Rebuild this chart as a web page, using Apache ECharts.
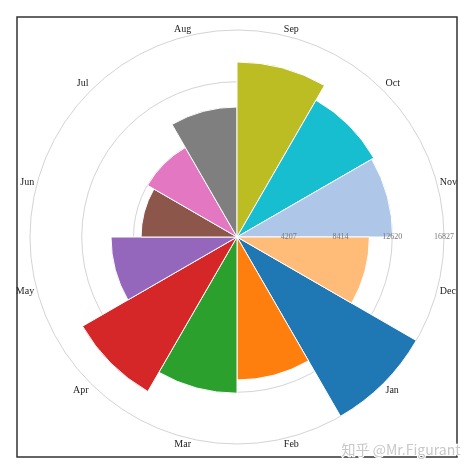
<!DOCTYPE html>
<html>
<head>
<meta charset="utf-8">
<script src="https://cdn.jsdelivr.net/npm/echarts@6/dist/echarts.min.js"></script>
<style>
  html, body { margin: 0; padding: 0; background: #fff; }
  #main { width: 474px; height: 474px; }
</style>
</head>
<body>
<div id="main"></div>
<script>
// 月份与数值
const months = ['Jan', 'Feb', 'Mar', 'Apr', 'May', 'Jun', 'Jul', 'Aug', 'Sep', 'Oct', 'Nov', 'Dec'];
const values = [16827, 11624, 12700, 14500, 10240, 7800, 8400, 10568, 14226, 12840, 12650, 10760];
const colors = ['#1f77b4', '#ff7f0e', '#2ca02c', '#d62728', '#9467bd', '#8c564b',
    '#e377c2', '#7f7f7f', '#bcbd22', '#17becf', '#aec7e8', '#ffbb78'];
const radiusTicks = [4207, 8414, 12620, 16827];

const rMax = radiusTicks[radiusTicks.length - 1];
const step = rMax / radiusTicks.length;

const chart = echarts.init(document.getElementById('main'));

const option = {
    backgroundColor: '#fff',
    animation: false,
    polar: [
        { center: ['50%', '50%'], radius: 207 },
        { center: ['50%', '50%'], radius: 207 }
    ],
    angleAxis: [
        {
            polarIndex: 0,
            type: 'category',
            data: months,
            startAngle: 330,
            clockwise: true,
            axisLine: { show: false },
            axisTick: { show: false },
            splitLine: { show: false },
            axisLabel: {
                interval: 0,
                margin: 3,
                color: '#222',
                fontFamily: 'Liberation Serif',
                fontSize: 10
            }
        },
        {
            polarIndex: 1,
            type: 'value',
            min: 0,
            max: 360,
            startAngle: 0,
            axisLine: { show: false },
            axisTick: { show: false },
            splitLine: { show: false },
            axisLabel: { show: false }
        }
    ],
    radiusAxis: [
        {
            polarIndex: 0,
            min: 0,
            max: rMax,
            interval: step,
            axisLine: { show: false },
            axisTick: { show: false },
            axisLabel: { show: false },
            splitLine: { show: true, lineStyle: { color: '#d4d4d4', width: 1 } }
        },
        {
            polarIndex: 1,
            min: 0,
            max: rMax,
            interval: step,
            z: 10,
            axisLine: { show: false },
            axisTick: { show: false },
            splitLine: { show: false },
            axisLabel: {
                margin: 0,
                verticalAlign: 'middle',
                color: '#777',
                fontFamily: 'Liberation Serif',
                fontSize: 8,
                formatter: function (v) {
                    const i = Math.round(v / step) - 1;
                    return i >= 0 ? String(radiusTicks[i]) : '';
                }
            }
        }
    ],
    series: [{
        type: 'bar',
        coordinateSystem: 'polar',
        polarIndex: 0,
        barCategoryGap: '0%',
        data: values.map((v, i) => ({
            value: v,
            itemStyle: { color: colors[i] }
        })),
        itemStyle: { borderColor: '#fff', borderWidth: 1 }
    }],
    graphic: [
        {
            type: 'rect',
            shape: { x: 17, y: 17, width: 440, height: 440 },
            style: { fill: 'none', stroke: '#333', lineWidth: 1.5 },
            z: 20
        },
        {
            type: 'text',
            x: 401,
            y: 450,
            style: {
                text: '知乎 @Mr.Figurant',
                fill: '#c8c8c8',
                stroke: '#fff',
                lineWidth: 2,
                font: '14px "Noto Sans CJK SC"',
                align: 'center',
                verticalAlign: 'middle'
            },
            z: 30
        }
    ]
};

chart.setOption(option);
</script>
</body>
</html>
